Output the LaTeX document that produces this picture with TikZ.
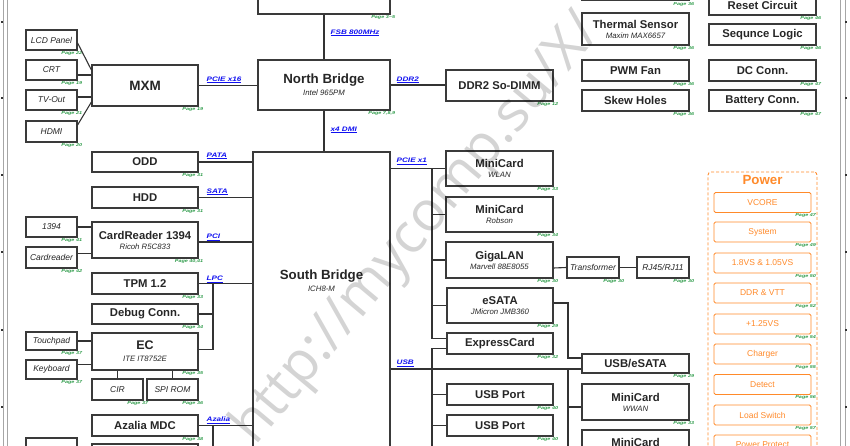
\documentclass[tikz,border=0pt]{standalone}
\usepackage{fontspec}
\setmainfont{Liberation Sans}
\newfontfamily\wmfont{Open Sans}
\usetikzlibrary{calc}
\definecolor{boxc}{HTML}{3A3A3A}
\definecolor{wirec}{HTML}{333333}
\definecolor{orng}{HTML}{FF8A2A}
\definecolor{pgreen}{HTML}{2E9B4A}
\definecolor{busblue}{HTML}{1010F0}
\newcommand\subt[1]{{\mdseries\itshape\fontsize{7.8}{9}\selectfont #1}}
\newcommand\bl[1]{\scalebox{1.25}[1]{\underline{#1}}}
\newcommand\pgt[1]{\scalebox{1.3}[1]{#1}}
\begin{document}
\begin{tikzpicture}[x=1pt,y=-1pt,
  box/.style={draw=boxc, line width=1.2pt, fill=white, inner sep=1pt, align=center,
    font=\bfseries\fontsize{11.3}{12}\selectfont, text=black!85},
  sz/.style 2 args={minimum width=#1pt, minimum height=#2pt},
  sbox/.style={box, font=\itshape\fontsize{8.5}{9}\selectfont, minimum width=51pt, minimum height=20pt},
  pbox/.style={draw=orng, line width=0.9pt, rounded corners=1.5pt, fill=white,
    minimum width=97pt, minimum height=20pt, font=\fontsize{8.5}{9}\selectfont, text=orng},
  wire/.style={draw=wirec, line width=1.1pt},
  bus/.style={font=\bfseries\itshape\fontsize{6.5}{7}\selectfont, text=busblue, inner sep=0.5pt},
  pglab/.style={font=\bfseries\itshape\fontsize{4.2}{4.5}\selectfont, text=pgreen, inner sep=0.3pt,
    anchor=north east, xshift=5pt, yshift=-0.6pt},
  pg/.style={label={[pglab]south east:\pgt{#1}}}]
\useasboundingbox (0,0) rectangle (850,446);
\clip (0,0) rectangle (850,446);

% page borders
\draw[gray!70, line width=0.8pt] (3,0) -- (3,446) (7,0) -- (7,446) (840,0) -- (840,446) (845,0) -- (845,446);
\foreach \yy in {22,98,175,252,330,407}{
  \draw[black!80, line width=1.2pt] (1,\yy) -- (3,\yy) (845,\yy) -- (847,\yy);
}

% ---------- nodes ----------
\node[box, sz={132}{44}, pg={Page 3\textasciitilde 5}] (cpu) at (324,-8) {};
\node[box, sz={132}{50}, font=\bfseries\fontsize{13.3}{14}\selectfont, pg={Page 7,8,9}] (nb) at (324,85) {North Bridge\\[-2pt]\subt{Intel 965PM}};
\node[box, sz={137}{320}] (sb) at (321.5,312) {};
\node[font=\bfseries\fontsize{13.3}{14}\selectfont, text=black!85, align=center] (sbt) at (321.5,281) {South Bridge\\[-2pt]\subt{ICH8-M}};

\node[box, sz={106}{41}, font=\bfseries\fontsize{13.5}{14}\selectfont, pg={Page 19}] (mxm) at (145,85.5) {MXM};
\node[sbox, pg={Page 22}] (lcd) at (51.5,40) {LCD Panel};
\node[sbox, pg={Page 19}] (crt) at (51.5,70) {CRT};
\node[sbox, pg={Page 21}] (tv) at (51.5,100) {TV-Out};
\node[sbox, sz={51}{21}, pg={Page 20}] (hdmi) at (51.5,131.5) {HDMI};

\node[box, sz={106}{20}, pg={Page 31}] (odd) at (145,162) {ODD};
\node[box, sz={106}{21}, pg={Page 31}] (hdd) at (145,197.5) {HDD};
\node[box, sz={106}{36}, pg={Page 40,41}] (cr) at (145,240) {CardReader 1394\\[-2pt]\subt{Ricoh R5C833}};
\node[sbox, pg={Page 41}] (c1394) at (51.5,227) {1394};
\node[sbox, sz={51}{21}, pg={Page 42}] (crd) at (51.5,257.5) {Cardreader};
\node[box, sz={106}{21}, pg={Page 33}] (tpm) at (145,283.5) {TPM 1.2};
\node[box, sz={106}{20}, pg={Page 34}] (dbg) at (145,314) {Debug Conn.};
\node[box, sz={106}{37}, font=\bfseries\fontsize{12.5}{13}\selectfont, pg={Page 35}] (ec) at (145,351.5) {EC\\[-1pt]\subt{ITE IT8752E}};
\node[sbox, sz={51}{18}, pg={Page 37}] (tp) at (51.5,341) {Touchpad};
\node[sbox, sz={51}{19}, pg={Page 37}] (kb) at (51.5,369.5) {Keyboard};
\node[sbox, sz={51}{21}, pg={Page 37}] (cir) at (117.5,389.5) {CIR};
\node[sbox, sz={51}{21}, pg={Page 36}] (spi) at (172.5,389.5) {SPI ROM};
\node[box, sz={106}{21}, pg={Page 38}] (az) at (145,425.5) {Azalia MDC};
\node[box, sz={106}{22}] (bot1) at (145,455) {};
\node[sbox] (bot2) at (51.5,448) {};

\node[box, sz={107}{31}, pg={Page 12}] (ddr) at (499.5,85.5) {DDR2 So-DIMM};
\node[box, sz={107}{22}, pg={Page 36}] (top1) at (635.5,-10.5) {};
\node[box, sz={107}{32}, pg={Page 36}] (ts) at (635.5,29) {Thermal Sensor\\[-2pt]\subt{Maxim MAX6657}};
\node[box, sz={107}{21}, pg={Page 36}] (fan) at (635.5,70.5) {PWM Fan};
\node[box, sz={107}{21}, pg={Page 36}] (skew) at (635.5,100.5) {Skew Holes};
\node[box, sz={107}{20}, pg={Page 46}] (rst) at (762.5,5) {Reset Circuit};
\node[box, sz={107}{21}, pg={Page 46}] (seq) at (762.5,34.5) {Sequnce Logic};
\node[box, sz={107}{21}, pg={Page 47}] (dc) at (762.5,70.5) {DC Conn.};
\node[box, sz={107}{21}, pg={Page 47}] (bat) at (762.5,100.5) {Battery Conn.};

\node[box, sz={107}{35}, pg={Page 33}] (wlan) at (499.5,168.5) {MiniCard\\[-2pt]\subt{WLAN}};
\node[box, sz={107}{35}, pg={Page 34}] (rob) at (499.5,214.5) {MiniCard\\[-2pt]\subt{Robson}};
\node[box, sz={107}{36}, pg={Page 30}] (giga) at (499.5,260) {GigaLAN\\[-2pt]\subt{Marvell 88E8055}};
\node[sbox, sz={52}{21}, pg={Page 30}] (tr) at (593,267.5) {Transformer};
\node[sbox, sz={52}{21}, pg={Page 30}] (rj) at (663,267.5) {RJ45/RJ11};
\node[box, sz={106}{35}, pg={Page 29}] (esata) at (500,305.5) {eSATA\\[-2pt]\subt{JMicron JMB360}};
\node[box, sz={106}{21}, pg={Page 32}] (exc) at (500,343.5) {ExpressCard};
\node[box, sz={107}{19}, pg={Page 29}] (usbe) at (635.5,363.5) {USB/eSATA};
\node[box, sz={106}{21}, pg={Page 40}] (usb1) at (500,394.5) {USB Port};
\node[box, sz={106}{21}, pg={Page 40}] (usb2) at (500,425.5) {USB Port};
\node[box, sz={106}{21}] (usb3) at (500,457) {};
\node[box, sz={107}{36}, pg={Page 33}] (wwan) at (635.5,402) {MiniCard\\[-2pt]\subt{WWAN}};
\node[box, sz={107}{40}] (mc3) at (635.5,450) {};
\node[font=\bfseries\fontsize{11.3}{12}\selectfont, text=black!85] (mc3t) at (635.5,442) {MiniCard};

% power group
\node[draw=orng, dash pattern=on 3pt off 2pt, line width=0.9pt, rounded corners=3pt, sz={109}{296}] (pwr) at (762.5,320) {};
\node[font=\bfseries\fontsize{13.3}{14}\selectfont, text=orng] (pwrt) at (762.5,180) {Power};
\node[pbox, pg={Page 47}] (p1) at (762.5,202.5) {VCORE};
\node[pbox, pg={Page 49}] (p2) at (762.5,232) {System};
\node[pbox, pg={Page 50}] (p3) at (762.5,263) {1.8VS \& 1.05VS};
\node[pbox, pg={Page 52}] (p4) at (762.5,293) {DDR \& VTT};
\node[pbox, pg={Page 54}] (p5) at (762.5,324) {+1.25VS};
\node[pbox, pg={Page 55}] (p6) at (762.5,354) {Charger};
\node[pbox, pg={Page 56}] (p7) at (762.5,384.5) {Detect};
\node[pbox, pg={Page 57}] (p8) at (762.5,415) {Load Switch};
\node[pbox] (p9) at (762.5,445) {Power Protect};

% ---------- connectors ----------
\coordinate (lpcx) at (213,0);
\coordinate (pbx) at (432,0);
\coordinate (ux2) at (568,0);
\coordinate (bot) at (0,470);

\draw[wire] (cpu.south) -- (nb.north);
\draw[wire] (nb.south) -- (nb.south |- sb.north);
\draw[wire] (mxm.east) -- (mxm.east -| nb.west);
\draw[wire] (nb.east) -- (nb.east -| ddr.west);

\draw[wire] ([yshift=-3pt]lcd.east) -- ([yshift=15.5pt]mxm.west);
\draw[wire] ([yshift=-5pt]crt.east) -- ([yshift=10.5pt]mxm.west);
\draw[wire] ([yshift=3pt]tv.east) -- ([yshift=-11.5pt]mxm.west);
\draw[wire] ([yshift=6.5pt]hdmi.east) -- ([yshift=-16.5pt]mxm.west);

\draw[wire] (odd.east) -- (odd.east -| sb.west);
\draw[wire] (hdd.east) -- (hdd.east -| sb.west);
\draw[wire] ([yshift=-2pt]cr.east) -- ([yshift=-2pt]cr.east -| sb.west);
\draw[wire] (c1394.east) -- (c1394.east -| cr.west);
\draw[wire] ([yshift=4pt]crd.east) -- ([yshift=4pt]crd.east -| cr.west);
\draw[wire] (tpm.east) -- (tpm.east -| sb.west);
\draw[wire] (tpm.east -| lpcx) -- ([yshift=2pt]ec.east -| lpcx) -- ([yshift=2pt]ec.east);
\draw[wire] (dbg.east) -- (dbg.east -| lpcx);
\draw[wire] (tp.east) -- (tp.east -| ec.west);
\draw[wire] ([yshift=5pt]kb.east) -- ([yshift=5pt]kb.east -| ec.west);
\draw[wire] (cir.north) -- (cir.north |- ec.south);
\draw[wire] (spi.north) -- (spi.north |- ec.south);
\draw[wire] (az.east) -- (az.east -| sb.west);
\draw[wire] (az.east -| lpcx) -- (lpcx |- bot);

\draw[wire] (wlan.west -| sb.east) -- (wlan.west);
\draw[wire] (wlan.west -| pbx) -- ([yshift=5pt]exc.west -| pbx) -- ([yshift=5pt]exc.west);
\draw[wire] (rob.west -| pbx) -- (rob.west);
\draw[wire] (giga.west -| pbx) -- (giga.west);
\draw[wire] (esata.west -| pbx) -- (esata.west);
\draw[wire] ([yshift=-8pt]giga.east) -- (tr.west);
\draw[wire] (tr.east) -- (rj.west);
\draw[wire] ([yshift=2.5pt]esata.east) -- ([yshift=2.5pt]esata.east -| ux2) -- ([yshift=5.5pt]usbe.west -| ux2) -- ([yshift=5.5pt]usbe.west);
\draw[wire] ([yshift=-5.5pt]usbe.west -| sb.east) -- ([yshift=-5.5pt]usbe.west);
\draw[wire] ([yshift=-5pt]exc.west) -- ([yshift=-5pt]exc.west -| pbx) -- (pbx |- bot);
\draw[wire] (usb1.west -| pbx) -- (usb1.west);
\draw[wire] (usb2.west -| pbx) -- (usb2.west);
\draw[wire] (usb3.west -| pbx) -- (usb3.west);
\draw[wire] ([yshift=-5.5pt]usbe.west -| ux2) -- (ux2 |- bot);
\draw[wire] ([yshift=-5pt]wwan.west -| ux2) -- ([yshift=-5pt]wwan.west);

% bus labels
\node[bus, anchor=south west] (lpcie16) at (206,84) {\bl{PCIE x16}};
\node[bus, anchor=south west] (lpata) at (206,160) {\bl{PATA}};
\node[bus, anchor=south west] (lsata) at (206,196) {\bl{SATA}};
\node[bus, anchor=south west] (lpci) at (206,241) {\bl{PCI}};
\node[bus, anchor=south west] (llpc) at (206,283) {\bl{LPC}};
\node[bus, anchor=south west] (laz) at (206,424) {\bl{Azalia}};
\node[bus, anchor=west] (lfsb) at (330,33) {\bl{FSB 800MHz}};
\node[bus, anchor=west] (ldmi) at (330,130) {\bl{x4 DMI}};
\node[bus, anchor=south west] (lddr) at (396,84) {\bl{DDR2}};
\node[bus, anchor=south west] (lpcie1) at (396,165.5) {\bl{PCIE x1}};
\node[bus, anchor=south west] (lusb) at (396,367.5) {\bl{USB}};

% watermark
\node[font=\wmfont\fontsize{56}{56}\selectfont, text=black, text opacity=0.17, rotate=50] (wm) at (418,230) {http://mycomp.su/X/};
\end{tikzpicture}
\end{document}
